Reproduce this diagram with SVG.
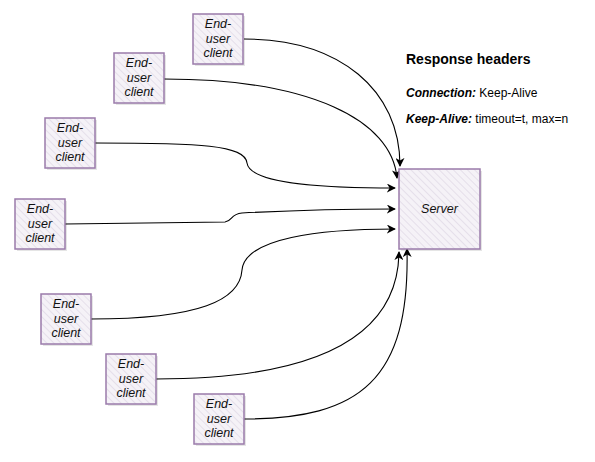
<svg xmlns="http://www.w3.org/2000/svg" width="595" height="462" viewBox="0 0 595 462">
<defs>
<pattern id="hatch" width="5" height="5" patternUnits="userSpaceOnUse" patternTransform="rotate(-45)">
<rect width="5" height="5" fill="#f5f2f7"/>
<line x1="0" y1="0" x2="0" y2="5" stroke="#e2dae7" stroke-width="1.6"/>
</pattern>
<marker id="arr" viewBox="0 0 10 10" refX="9" refY="5" markerWidth="9" markerHeight="9" orient="auto" markerUnits="userSpaceOnUse">
<path d="M0,0 L10,5 L0,10 L3,5 Z" fill="#000"/>
</marker>
</defs>
<style>
.box{fill:url(#hatch);stroke:#9a7bab;stroke-width:1.5}
.shadow{fill:#000;opacity:0.1}
.lbl{font-family:"Liberation Sans",Arial,sans-serif;font-size:12.5px;font-style:italic;fill:#111;text-anchor:middle}
.edge{fill:none;stroke:#000;stroke-width:1.1;marker-end:url(#arr)}
.hdr{font-family:"Liberation Sans",Arial,sans-serif;fill:#000}
</style>
<rect width="595" height="462" fill="#fff"/>
<g id="connectors">
<path class="edge" d="M244,39 C340,39 400,90 400,166"/>
<path class="edge" d="M164,79 C310,79 392,120 397,178"/>
<path class="edge" d="M95,143 C200,143 245,145 247,163 C250,185 330,188 395,188"/>
<path class="edge" d="M65,224 L225,222 C233,221 230,214 242,213 C300,210 360,209 395,209"/>
<path class="edge" d="M91,319 C200,319 240,300 242,270 C245,238 320,229 395,229"/>
<path class="edge" d="M156,379 C310,379 398,340 399,252"/>
<path class="edge" d="M244,419 C360,419 410,380 407,249"/>
</g>
<g id="client1"><rect class="shadow" x="195" y="16" width="50" height="50"/><rect class="box" x="193" y="14" width="50" height="50"/><text class="lbl" x="218" y="28">End-</text><text class="lbl" x="218" y="43">user</text><text class="lbl" x="218" y="57">client</text></g>
<g id="client2"><rect class="shadow" x="116" y="55" width="50" height="50"/><rect class="box" x="114" y="53" width="50" height="50"/><text class="lbl" x="139" y="67">End-</text><text class="lbl" x="139" y="82">user</text><text class="lbl" x="139" y="96">client</text></g>
<g id="client3"><rect class="shadow" x="47" y="120" width="50" height="50"/><rect class="box" x="45" y="118" width="50" height="50"/><text class="lbl" x="70" y="132">End-</text><text class="lbl" x="70" y="147">user</text><text class="lbl" x="70" y="161">client</text></g>
<g id="client4"><rect class="shadow" x="17" y="201" width="50" height="50"/><rect class="box" x="15" y="199" width="50" height="50"/><text class="lbl" x="40" y="213">End-</text><text class="lbl" x="40" y="228">user</text><text class="lbl" x="40" y="242">client</text></g>
<g id="client5"><rect class="shadow" x="43" y="296" width="50" height="50"/><rect class="box" x="41" y="294" width="50" height="50"/><text class="lbl" x="66" y="308">End-</text><text class="lbl" x="66" y="323">user</text><text class="lbl" x="66" y="337">client</text></g>
<g id="client6"><rect class="shadow" x="108" y="356" width="50" height="50"/><rect class="box" x="106" y="354" width="50" height="50"/><text class="lbl" x="131" y="368">End-</text><text class="lbl" x="131" y="383">user</text><text class="lbl" x="131" y="397">client</text></g>
<g id="client7"><rect class="shadow" x="196" y="396" width="50" height="50"/><rect class="box" x="194" y="394" width="50" height="50"/><text class="lbl" x="219" y="408">End-</text><text class="lbl" x="219" y="423">user</text><text class="lbl" x="219" y="437">client</text></g>
<g id="server"><rect class="shadow" x="401" y="171" width="81" height="80"/><rect class="box" x="399" y="169" width="81" height="80"/><text class="lbl" x="439.5" y="213">Server</text></g>
<g id="headers">
<text class="hdr" x="406" y="64" font-size="14" font-weight="bold">Response headers</text>
<text class="hdr" x="406" y="97" font-size="12"><tspan font-weight="bold" font-style="italic">Connection:</tspan> Keep-Alive</text>
<text class="hdr" x="406" y="123" font-size="12"><tspan font-weight="bold" font-style="italic">Keep-Alive:</tspan> timeout=t, max=n</text>
</g>
</svg>
